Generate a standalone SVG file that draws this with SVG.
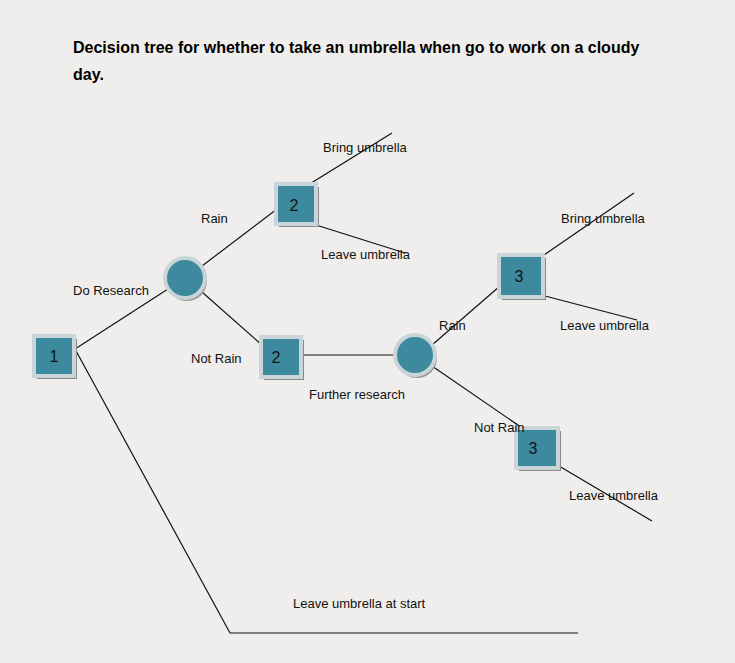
<svg xmlns="http://www.w3.org/2000/svg" width="735" height="663" viewBox="0 0 735 663">
<style>
.t{font-family:"Liberation Sans",Arial,sans-serif;font-size:13px;fill:#111}
.n{font-family:"Liberation Sans",Arial,sans-serif;font-size:16px;fill:#111;text-anchor:middle}
.sq{fill:#3d8a9e;stroke:#c9d5d8;stroke-width:4}
.sh{fill:#8a8a8a}
.c{fill:#3d8a9e;stroke:#c9d5d8;stroke-width:4}
#conn line,#conn polyline{stroke:#111;stroke-width:1.2;fill:none}
</style>
<rect width="735" height="663" fill="#f0eeec"/>
<text x="73" y="53" style="font-family:'Liberation Sans',Arial,sans-serif;font-size:16px;font-weight:bold">Decision tree for whether to take an umbrella when go to work on a cloudy</text>
<text x="73" y="80" style="font-family:'Liberation Sans',Arial,sans-serif;font-size:16px;font-weight:bold">day.</text>
<g id="conn">
<line x1="75" y1="349" x2="168" y2="289"/>
<polyline points="75,349 230,633 578,633"/>
<line x1="202" y1="266" x2="277" y2="209"/>
<line x1="202" y1="292" x2="262" y2="345"/>
<line x1="308" y1="185" x2="392" y2="133"/>
<line x1="316" y1="225" x2="405" y2="253"/>
<line x1="302" y1="355" x2="396" y2="355"/>
<line x1="432" y1="345" x2="500" y2="286"/>
<line x1="432" y1="366" x2="528" y2="432"/>
<line x1="544" y1="255" x2="634" y2="193"/>
<line x1="545" y1="296" x2="637" y2="320"/>
<line x1="559" y1="466" x2="652" y2="521"/>
</g>
<g id="n1"><rect class="sh" x="37" y="339" width="40" height="40"/><rect class="sq" x="34" y="336" width="40" height="40"/><text class="n" x="54" y="362">1</text></g>
<g id="c1"><circle cx="187" cy="281" r="20" fill="#999"/><circle class="c" cx="185" cy="278" r="20"/></g>
<g id="n2a"><rect class="sh" x="279" y="187" width="40" height="40"/><rect class="sq" x="276" y="184" width="40" height="40"/><text class="n" x="294" y="211">2</text></g>
<g id="n2b"><rect class="sh" x="264" y="340" width="40" height="40"/><rect class="sq" x="261" y="337" width="40" height="40"/><text class="n" x="276" y="363">2</text></g>
<g id="c2"><circle cx="417" cy="358" r="20" fill="#999"/><circle class="c" cx="415" cy="355" r="20"/></g>
<g id="n3a"><rect class="sh" x="502" y="258" width="44" height="42"/><rect class="sq" x="499" y="255" width="44" height="42"/><text class="n" x="519" y="282">3</text></g>
<g id="n3b"><rect class="sh" x="519" y="431" width="42" height="40"/><rect class="sq" x="516" y="428" width="42" height="40"/><text class="n" x="533" y="454">3</text></g>
<text class="t" x="73" y="295">Do Research</text>
<text class="t" x="201" y="223">Rain</text>
<text class="t" x="191" y="363">Not Rain</text>
<text class="t" x="323" y="152">Bring umbrella</text>
<text class="t" x="321" y="259">Leave umbrella</text>
<text class="t" x="309" y="399">Further research</text>
<text class="t" x="439" y="330">Rain</text>
<text class="t" x="474" y="432">Not Rain</text>
<text class="t" x="561" y="223">Bring umbrella</text>
<text class="t" x="560" y="330">Leave umbrella</text>
<text class="t" x="569" y="500">Leave umbrella</text>
<text class="t" x="293" y="608">Leave umbrella at start</text>
</svg>
